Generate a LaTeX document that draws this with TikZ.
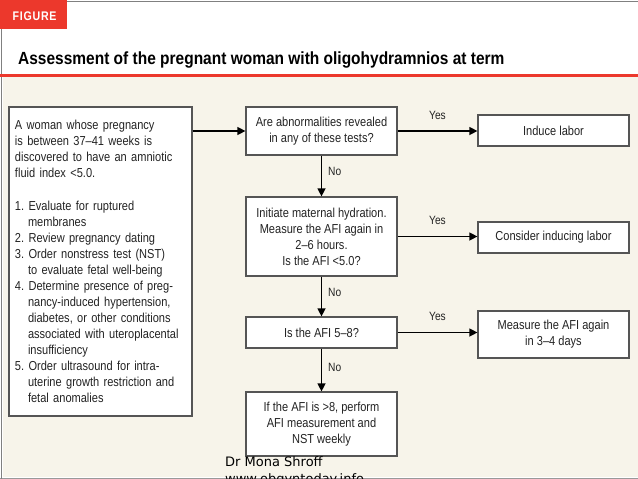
\documentclass[tikz,border=0pt]{standalone}
\usepackage{fontspec}
\setmainfont{Liberation Sans}
\newfontfamily\boxfont[FakeStretch=0.85]{Liberation Sans}
\newfontfamily\headfont[FakeStretch=0.88]{Liberation Sans}
\newfontfamily\tagfont[FakeStretch=0.85,LetterSpace=6]{Liberation Sans}
\newfontfamily\notefont{DejaVu Sans}
\usetikzlibrary{arrows.meta}
\definecolor{figred}{RGB}{236,56,44}
\definecolor{paper}{RGB}{247,244,234}
\definecolor{edge}{RGB}{85,85,85}
\definecolor{ink}{RGB}{35,35,35}

\begin{document}
\begin{tikzpicture}[x=1pt,y=-1pt,
	box/.style={draw=edge,line width=1.2pt,fill=white,inner sep=0pt,align=center,text=ink,
		font=\boxfont\fontsize{13}{16}\selectfont},
	link/.style={line width=1.3pt,-{Triangle[length=8pt,width=8pt]}},
	lab/.style={inner sep=0pt,text=ink,font=\boxfont\fontsize{12}{13}\selectfont},
	note/.style={anchor=base west,inner sep=0pt,font=\notefont\fontsize{13}{17}\selectfont}]
	\useasboundingbox (0,0) rectangle (638,479);
	\clip (0,0) rectangle (638,479);
	% frame and heading
	\fill[paper] (3,77) rectangle (638,477);
	\draw[gray!80,line width=0.8pt] (0,478.3) -- (638,478.3);
	\draw[gray,line width=0.9pt] (67,1.3) -- (638,1.3);
	\draw[gray,line width=0.9pt] (1.6,0) -- (1.6,479);
	\fill[figred] (0,0) rectangle (67,29);
	\node[anchor=base west,inner sep=0pt,text=white,font=\tagfont\bfseries\fontsize{12.5}{14}\selectfont] (tag) at (12.5,20.8) {FIGURE};
	\fill[figred] (0,74) rectangle (638,77);
	\node[anchor=base west,inner sep=0pt,font=\headfont\bfseries\fontsize{17.6}{20}\selectfont] (title) at (18,64.3)
		{Assessment of the pregnant woman with oligohydramnios at term};
	% boxes
	\node[box,align=left,text width=171pt,minimum width=183pt,minimum height=309pt] (woman) at (100.5,261.5) {%
		A woman whose pregnancy\\
		is between 37–41 weeks is\\
		discovered to have an amniotic\\
		fluid index <5.0.\\[17pt]
		1.\ Evaluate for ruptured\\
		\hspace*{13pt}membranes\\
		2.\ Review pregnancy dating\\
		3.\ Order nonstress test (NST)\\
		\hspace*{13pt}to evaluate fetal well-being\\
		4.\ Determine presence of preg-\\
		\hspace*{13pt}nancy-induced hypertension,\\
		\hspace*{13pt}diabetes, or other conditions\\
		\hspace*{13pt}associated with uteroplacental\\
		\hspace*{13pt}insufficiency\\
		5.\ Order ultrasound for intra-\\
		\hspace*{13pt}uterine growth restriction and\\
		\hspace*{13pt}fetal anomalies};
	\node[box,minimum width=151pt,minimum height=48pt] (tests) at (321.5,131) {Are abnormalities revealed\\in any of these tests?};
	\node[box,minimum width=151pt,minimum height=79pt] (hydrate) at (321.5,236.5) {Initiate maternal hydration.\\Measure the AFI again in\\2–6 hours.\\Is the AFI <5.0?};
	\node[box,minimum width=151pt,minimum height=31pt] (range) at (321.5,332.5) {Is the AFI 5–8?};
	\node[box,minimum width=151pt,minimum height=64pt] (weekly) at (321.5,424) {If the AFI is >8, perform\\AFI measurement and\\NST weekly};
	\node[box,minimum width=151pt,minimum height=31pt] (induce) at (553.5,130.5) {Induce labor};
	\node[box,minimum width=151pt,minimum height=31pt] (consider) at (553.5,237.5) {Consider inducing labor};
	\node[box,minimum width=151pt,minimum height=47pt] (remeasure) at (553.5,334.5) {Measure the AFI again\\in 3–4 days};
	% connectors
	\draw[link] (tests.west -| woman.east) -- (tests.west);
	\draw[link] (tests.east) -- node[lab,midway,above=11pt] {Yes} (tests.east -| induce.west);
	\draw[link] (hydrate.east) -- node[lab,midway,above=11pt] {Yes} (hydrate.east -| consider.west);
	\draw[link] (range.east) -- node[lab,midway,above=11pt] {Yes} (range.east -| remeasure.west);
	\draw[link] (tests.south) -- node[lab,pos=0.4,right=6pt] {No} (hydrate.north);
	\draw[link] (hydrate.south) -- node[lab,pos=0.4,right=6pt] {No} (range.north);
	\draw[link] (range.south) -- node[lab,pos=0.45,right=6pt] {No} (weekly.north);
	% credit
	\node[note] (author) at (225,466) {Dr Mona Shroff};
	\node[note] (site) at (225,483) {www.obgyntoday.info};
\end{tikzpicture}
\end{document}
